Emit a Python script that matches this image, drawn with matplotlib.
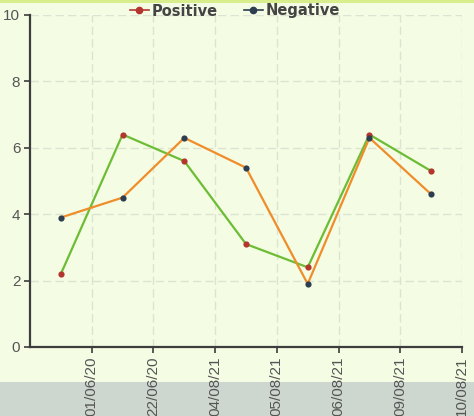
import matplotlib
matplotlib.use("Agg")
import matplotlib.pyplot as plt
from matplotlib.lines import Line2D
from matplotlib.patches import Rectangle

labels = ["01/06/20", "22/06/20", "04/08/21", "05/08/21", "06/08/21", "09/08/21", "10/08/21"]
positive = [2.2, 6.4, 5.6, 3.1, 2.4, 6.4, 5.3]
negative = [3.9, 4.5, 6.3, 5.4, 1.9, 6.3, 4.6]

bg = "#f4fce3"
fig = plt.figure(figsize=(4.74, 4.16), dpi=100, facecolor=bg)
# top strip
fig.patches.append(Rectangle((0, 0.993), 1, 0.007, transform=fig.transFigure,
                             facecolor="#d8ee8c", edgecolor="none", zorder=-5))
# bottom slider band
fig.patches.append(Rectangle((0, 0), 1, 34/416, transform=fig.transFigure,
                             facecolor="#cdd7cf", edgecolor="none", zorder=-5))

ax = fig.add_axes([30/474, 69/416, 432/474, 332/416])
ax.set_facecolor(bg)
ax.set_zorder(1)
x = list(range(len(labels)))

ax.plot(x, positive, color="#6cbd35", lw=1.6, zorder=3)
ax.plot(x, negative, color="#ef8d2b", lw=1.6, zorder=3)
ax.scatter(x, positive, s=20, color="#b3352e", zorder=4, linewidths=0)
ax.scatter(x, negative, s=20, color="#2c3e50", zorder=4, linewidths=0)

ax.set_xlim(-0.5, 6.5)
ax.set_ylim(0, 10)
ax.set_yticks([0, 2, 4, 6, 8, 10])
ax.set_xticks([i + 0.5 for i in x])
ax.set_xticklabels(labels, rotation=90, fontsize=11, color="#555555",
                   family="Liberation Sans", va="top")
for t in ax.get_yticklabels():
    t.set_fontsize(11)
    t.set_color("#555555")
    t.set_family("Liberation Sans")

ax.grid(True, color="#dde3d3", linestyle=(0, (6, 3)), lw=1.0, zorder=1)
for s in ["top", "right"]:
    ax.spines[s].set_visible(False)
for s in ["left", "bottom"]:
    ax.spines[s].set_color("#3d3d3d")
    ax.spines[s].set_linewidth(1.6)
ax.tick_params(axis="y", length=4, width=1.2, color="#3d3d3d", pad=3)
ax.tick_params(axis="x", length=4, width=1.2, color="#3d3d3d", pad=3)

handles = [
    Line2D([0], [0], color="#b3352e", lw=1.2, marker="o", markersize=4.5),
    Line2D([0], [0], color="#2c3e50", lw=1.2, marker="o", markersize=4.5),
]
leg = fig.legend(handles, ["Positive", "Negative"], loc="center",
                 bbox_to_anchor=(235/474, 1 - 11/416), ncol=2, frameon=False,
                 handlelength=1.3, handletextpad=0.2, columnspacing=1.8,
                 prop={"weight": "bold", "size": 10.5, "family": "DejaVu Sans"})
leg.set_zorder(5)
for t in leg.get_texts():
    t.set_color("#444444")

fig.savefig("out.png", dpi=100, facecolor=bg)
